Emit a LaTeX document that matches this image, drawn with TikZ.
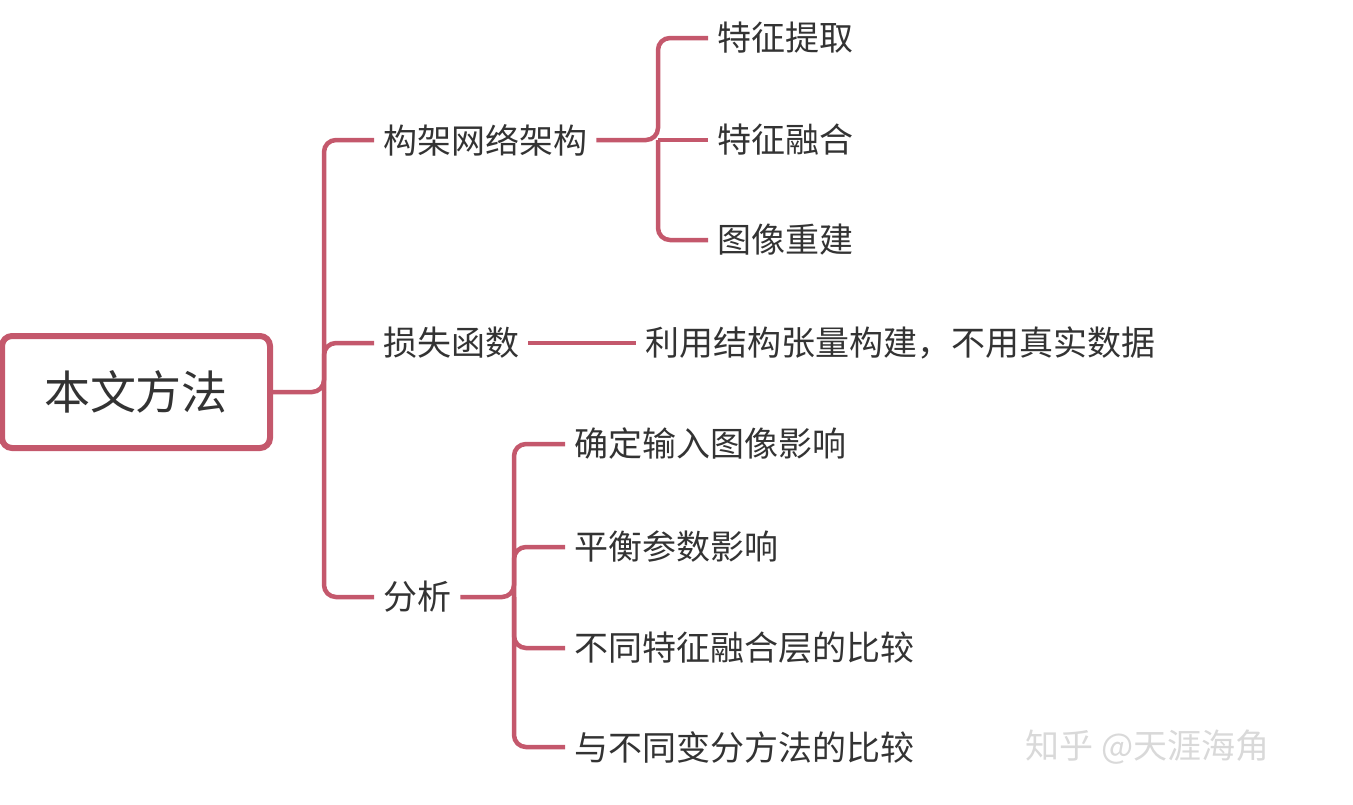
\documentclass[tikz,border=0pt]{standalone}
\usepackage{fontspec}
\setmainfont{Noto Sans CJK SC}
\definecolor{br}{RGB}{196,88,108}
\definecolor{tx}{RGB}{51,51,51}
\begin{document}
\begin{tikzpicture}[x=1pt,y=-1pt,
  lbl/.style={anchor=west,inner xsep=9pt,inner ysep=0pt,text=tx,font=\fontsize{34}{36}\selectfont},
  conn/.style={draw=br,line width=4.5pt,rounded corners=12pt}]
\useasboundingbox (0,0) rectangle (1353,804);
\node[draw=br,line width=6pt,rounded corners=10pt,minimum width=268pt,minimum height=112pt,text=tx,font=\fontsize{46}{48}\selectfont] (root) at (136,392) {本文方法};
\node[lbl] (a) at (374,140) {构架网络架构};
\node[lbl] (b) at (374,343) {损失函数};
\node[lbl] (c) at (374,597) {分析};
\node[lbl] (a1) at (708,38) {特征提取};
\node[lbl] (a2) at (708,140) {特征融合};
\node[lbl] (a3) at (708,240) {图像重建};
\node[lbl] (b1) at (636,343) {利用结构张量构建，不用真实数据};
\node[lbl] (c1) at (565,444) {确定输入图像影响};
\node[lbl] (c2) at (565,547) {平衡参数影响};
\node[lbl] (c3) at (565,648) {不同特征融合层的比较};
\node[lbl] (c4) at (565,747) {与不同变分方法的比较};
\node[anchor=west,text=black!15,font=\fontsize{34}{36}\selectfont] (w) at (1022,747) {知乎 @天涯海角};
\coordinate (t0) at (324,392);
\coordinate (t1) at (658,140);
\coordinate (t2) at (514,597);
\draw[conn] (root.east) -- (t0) |- (a.west);
\draw[conn] (t0) |- (b.west);
\draw[conn] (t0) |- (c.west);
\draw[conn] (a.east) -- (t1) |- (a1.west);
\draw[conn] (t1) -- (a2.west);
\draw[conn] (t1) |- (a3.west);
\draw[conn] (b.east) -- (b1.west);
\draw[conn] (c.east) -- (t2) |- (c1.west);
\draw[conn] (t2) |- (c2.west);
\draw[conn] (t2) |- (c3.west);
\draw[conn] (t2) |- (c4.west);
\end{tikzpicture}
\end{document}
